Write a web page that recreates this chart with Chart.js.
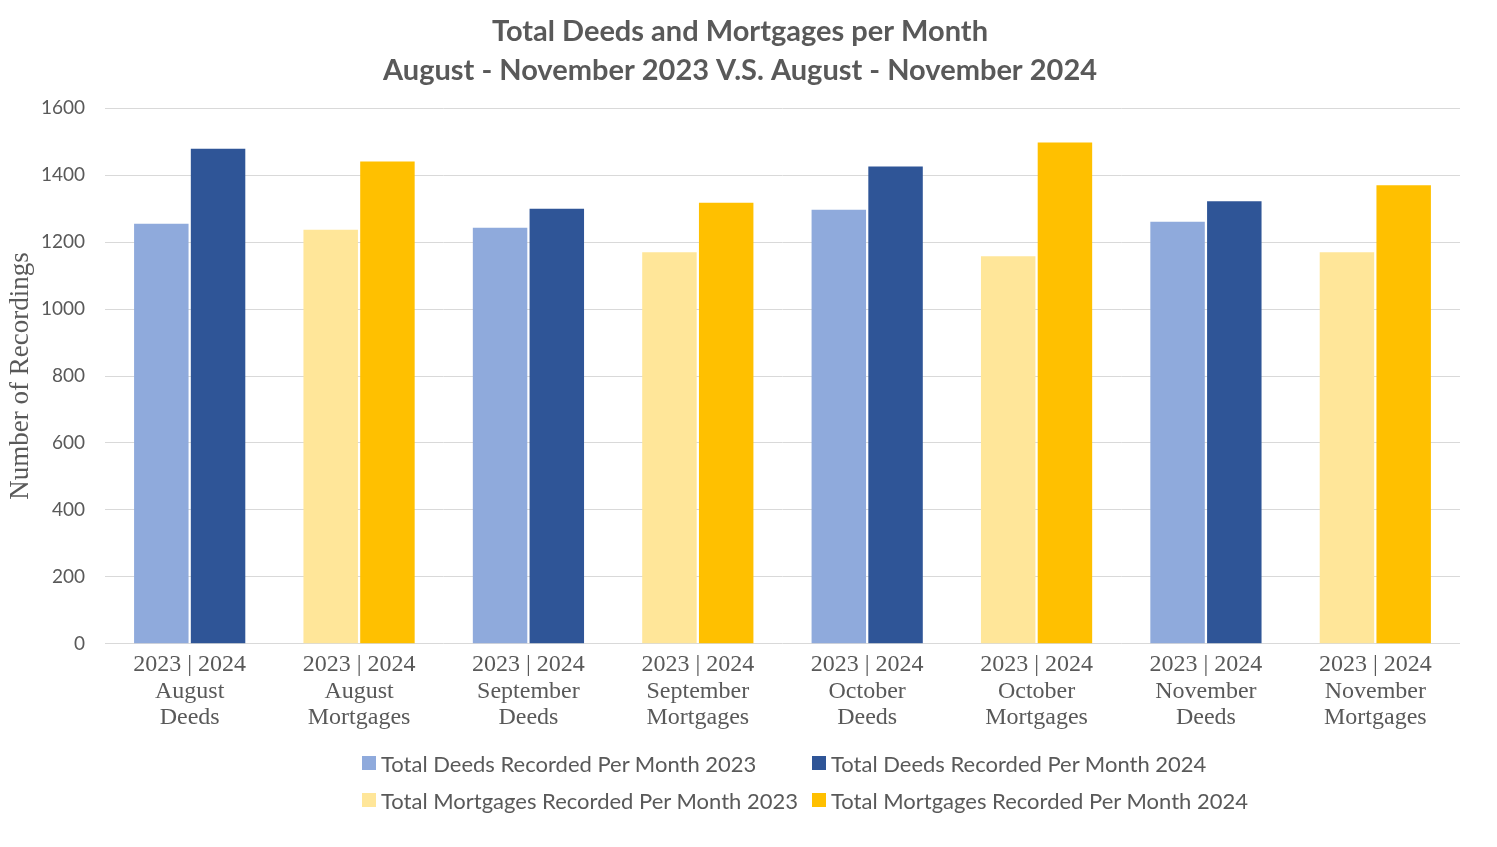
<!DOCTYPE html>
<html>
<head>
<meta charset="utf-8">
<script src="https://cdn.jsdelivr.net/npm/chart.js@4.4.1/dist/chart.umd.min.js"></script>
<style>
    html, body { margin: 0; padding: 0; background: #fff; }
    #wrap { position: relative; width: 1497px; height: 847px; }
    #legend {
        position: absolute; left: 362px; top: 750px;
        display: grid; grid-template-columns: 450px auto; row-gap: 11px;
        font-family: Lato, sans-serif; font-size: 22px; color: #595959;
    }
    .item { display: flex; align-items: center; height: 26px; white-space: nowrap; }
    .box { width: 14px; height: 14px; margin-right: 5px; }
</style>
</head>
<body>
<div id="wrap">
    <canvas id="recordingsChart" width="1497" height="847"></canvas>
    <div id="legend"></div>
</div>
<script>
// Categories (multi-line x labels)
const categories = [
    ['2023 | 2024', 'August', 'Deeds'],
    ['2023 | 2024', 'August', 'Mortgages'],
    ['2023 | 2024', 'September', 'Deeds'],
    ['2023 | 2024', 'September', 'Mortgages'],
    ['2023 | 2024', 'October', 'Deeds'],
    ['2023 | 2024', 'October', 'Mortgages'],
    ['2023 | 2024', 'November', 'Deeds'],
    ['2023 | 2024', 'November', 'Mortgages']
];

// Series values (null where the series has no bar)
const deeds2023 = [1255, null, 1243, null, 1297, null, 1261, null];
const deeds2024 = [1479, null, 1300, null, 1426, null, 1322, null];
const mortgages2023 = [null, 1237, null, 1170, null, 1158, null, 1170];
const mortgages2024 = [null, 1441, null, 1318, null, 1498, null, 1370];

const seriesNames = [
    'Total Deeds Recorded Per Month 2023',
    'Total Deeds Recorded Per Month 2024',
    'Total Mortgages Recorded Per Month 2023',
    'Total Mortgages Recorded Per Month 2024'
];

const colors = {
    lightBlue: '#8faadc',
    darkBlue: '#2f5597',
    lightGold: '#ffe699',
    gold: '#ffc000'
};

const textGrey = '#595959';

function initChart() {
    const chart = new Chart(document.getElementById('recordingsChart'), {
        type: 'bar',
        data: {
            labels: categories,
            datasets: [
                { label: seriesNames[0], data: deeds2023, backgroundColor: colors.lightBlue },
                { label: seriesNames[1], data: deeds2024, backgroundColor: colors.darkBlue },
                { label: seriesNames[2], data: mortgages2023, backgroundColor: colors.lightGold },
                { label: seriesNames[3], data: mortgages2024, backgroundColor: colors.gold }
            ]
        },
        options: {
            responsive: false,
            animation: false,
            datasets: {
                bar: {
                    skipNull: true,
                    categoryPercentage: 0.67,
                    barPercentage: 0.96
                }
            },
            layout: {
                padding: { left: 20, right: 37, top: 0, bottom: 116 }
            },
            plugins: {
                legend: { display: false },
                tooltip: { enabled: false },
                title: {
                    display: true,
                    text: [
                        'Total Deeds and Mortgages per Month',
                        'August - November 2023 V.S. August - November 2024'
                    ],
                    color: textGrey,
                    font: { family: 'Lato', size: 29, weight: 'bold', lineHeight: 1.35 },
                    padding: { top: 12, bottom: 18 }
                }
            },
            scales: {
                x: {
                    grid: { display: false },
                    border: { display: false },
                    ticks: {
                        color: textGrey,
                        padding: 0,
                        maxRotation: 0,
                        font: { family: 'Liberation Serif', size: 24, lineHeight: 1.1 }
                    }
                },
                y: {
                    min: 0,
                    max: 1600,
                    // fixed axis width so the plot starts where the reference does
                    afterFit: scale => { scale.width = 85; },
                    ticks: {
                        stepSize: 200,
                        color: textGrey,
                        padding: 20,
                        font: { family: 'Lato', size: 19 },
                        callback: value => String(value)
                    },
                    grid: { color: '#d9d9d9', drawTicks: false },
                    border: { display: false },
                    title: {
                        display: true,
                        text: 'Number of Recordings',
                        color: textGrey,
                        padding: { top: -15, bottom: 0 },
                        font: { family: 'Liberation Serif', size: 27 }
                    }
                }
            }
        }
    });

    // Two-column legend built from the datasets
    const legend = document.getElementById('legend');
    chart.data.datasets.forEach(ds => {
        const item = document.createElement('div');
        item.className = 'item';
        item.innerHTML = `<span class="box" style="background:${ds.backgroundColor}"></span>${ds.label}`;
        legend.appendChild(item);
    });
}

document.addEventListener('DOMContentLoaded', initChart);
</script>
</body>
</html>
